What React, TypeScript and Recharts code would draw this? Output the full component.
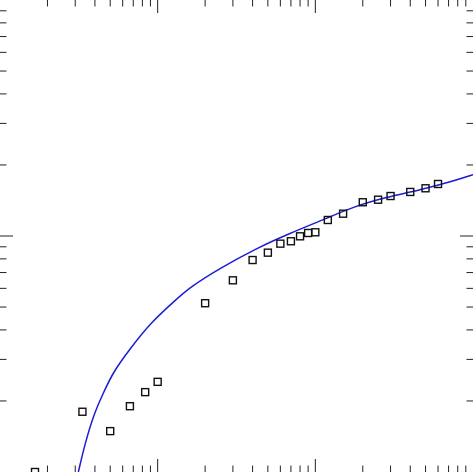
import { ComposedChart, Line, Scatter, XAxis, YAxis } from 'recharts'

// measured points (open squares)
const obsX = [1.667, 3.333, 5, 6.667, 8.333, 10, 20, 30, 40, 50, 60, 70, 80, 90, 100, 120, 150, 200, 250, 300, 400, 500, 600]
const obsY = [1.0, 1.8, 1.49, 1.9, 2.18, 2.41, 5.19, 6.49, 7.91, 8.5, 9.28, 9.5, 9.97, 10.3, 10.37, 11.69, 12.43, 13.9, 14.25, 14.77, 15.37, 15.93, 16.61]

// fitted curve (blue)
const fitX = [3.14, 3.46, 3.94, 4.52, 5.23, 6.67, 8.94, 13.2, 16, 24.8, 42.4, 69, 118, 174, 283, 461, 749, 1000]
const fitY = [1.0, 1.32, 1.76, 2.16, 2.66, 3.32, 4.27, 5.41, 6.06, 7.3, 8.87, 10.27, 11.88, 13.3, 14.6, 15.67, 17.1, 18.2]

const X_TICKS = [2, 3, 4, 5, 6, 7, 8, 9, 10, 20, 30, 40, 50, 60, 70, 80, 90, 100, 200, 300, 400, 500, 600, 700, 800, 900]
const Y_TICKS = [2, 3, 4, 5, 6, 7, 8, 9, 10, 20, 30, 40, 50, 60, 70, 80, 90]
const MAJOR = [1, 10, 100, 1000]

// chart is 1px larger on every side; the wrapper shifts it by -1 so the plot fills the page
const W = 475
const H = 474
const TOP = 1
const BOTTOM = H - 1
const LEFT = 1
const RIGHT = W - 1

const points = obsX.map((x, i) => ({ x, y: obsY[i] }))
const curve = fitX.map((x, i) => ({ x, y: fitY[i] }))

const tickLen = (v: number) => (MAJOR.includes(v) ? 13 : 6.5)
const TICK_COLOR = '#222'

function Square(p: any) {
  return (
    <rect
      x={p.cx - 3.5}
      y={p.cy - 3.5}
      width={7}
      height={7}
      fill="none"
      stroke="#111"
      strokeWidth={1.4}
    />
  )
}

export default function App() {
  return (
    <div style={{ position: 'absolute', left: -1, top: -1, background: '#fff' }}>
      <ComposedChart width={W} height={H} margin={{ top: 0, right: 0, bottom: 0, left: 0 }}>
        <XAxis
          xAxisId="b"
          dataKey="x"
          type="number"
          scale="log"
          domain={[1, 1000]}
          allowDataOverflow
          ticks={X_TICKS}
          interval={0}
          height={1}
          axisLine={false}
          tickLine={false}
          tick={(p: any) => (
            <line x1={p.x} x2={p.x} y1={BOTTOM} y2={BOTTOM - tickLen(p.payload.value)} stroke={TICK_COLOR} strokeWidth={1} />
          )}
        />
        <XAxis
          xAxisId="t"
          orientation="top"
          dataKey="x"
          type="number"
          scale="log"
          domain={[1, 1000]}
          allowDataOverflow
          ticks={X_TICKS}
          interval={0}
          height={1}
          axisLine={false}
          tickLine={false}
          tick={(p: any) => (
            <line x1={p.x} x2={p.x} y1={TOP} y2={TOP + tickLen(p.payload.value)} stroke={TICK_COLOR} strokeWidth={1} />
          )}
        />
        <YAxis
          yAxisId="l"
          dataKey="y"
          type="number"
          scale="log"
          domain={[1, 100]}
          allowDataOverflow
          ticks={Y_TICKS}
          interval={0}
          width={1}
          axisLine={false}
          tickLine={false}
          tick={(p: any) => (
            <line x1={LEFT} x2={LEFT + tickLen(p.payload.value)} y1={p.y} y2={p.y} stroke={TICK_COLOR} strokeWidth={1} />
          )}
        />
        <YAxis
          yAxisId="r"
          orientation="right"
          dataKey="y"
          type="number"
          scale="log"
          domain={[1, 100]}
          allowDataOverflow
          ticks={Y_TICKS}
          interval={0}
          width={1}
          axisLine={false}
          tickLine={false}
          tick={(p: any) => (
            <line x1={RIGHT} x2={RIGHT - tickLen(p.payload.value)} y1={p.y} y2={p.y} stroke={TICK_COLOR} strokeWidth={1} />
          )}
        />
        <Line
          xAxisId="b"
          yAxisId="l"
          data={curve}
          dataKey="y"
          type="basis"
          stroke="#1c1cd6"
          strokeWidth={1.5}
          dot={false}
          isAnimationActive={false}
        />
        <Scatter
          xAxisId="b"
          yAxisId="l"
          data={points}
          dataKey="y"
          shape={Square}
          isAnimationActive={false}
        />
      </ComposedChart>
    </div>
  )
}
